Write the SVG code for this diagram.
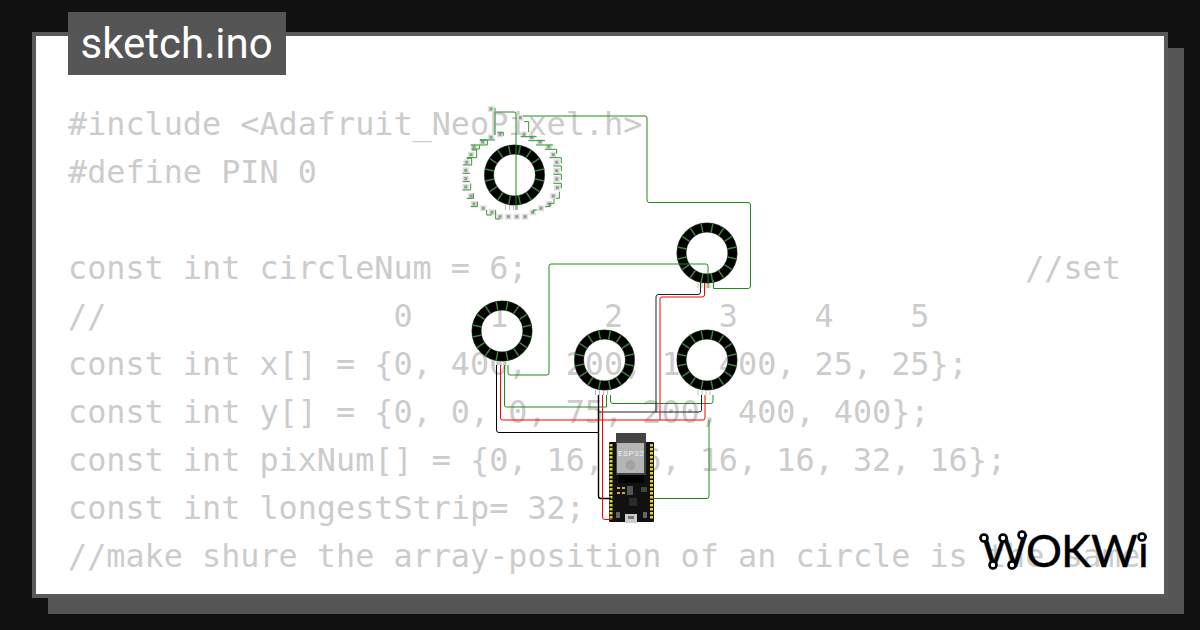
<svg xmlns="http://www.w3.org/2000/svg" width="1200" height="630" viewBox="0 0 1200 630">
<style>
.code{font-family:"DejaVu Sans Mono",monospace;font-size:31.8px;fill:#ccc;white-space:pre}
.w{fill:none;stroke-width:1;stroke-linejoin:round}
.g{stroke:#1c8c1c}.k{stroke:#000}.r{stroke:#f00}
.lw{fill:none;stroke:#2f9a2f;stroke-width:3}
.pin{stroke:#bbb;stroke-width:1}
.logo{font-family:"Lato","Open Sans",sans-serif;font-size:45px;fill:#000;stroke:#000;stroke-width:.4}
.nc{fill:#fff;stroke:#000;stroke-width:2.6}
</style>
<defs>
<g id="ring">
<circle r="25.5" fill="none" stroke="#000" stroke-width="9.600"/>
<circle r="30.200" fill="none" stroke="#2d6a2d" stroke-width=".4"/>
<circle r="20.800" fill="none" stroke="#2d6a2d" stroke-width=".4"/>
<path stroke="#3f7f3f" stroke-width="1.500" d="M4.1 -20.6L5.9 -29.4M-4.1 -20.6L-5.9 -29.4M4.1 20.6L5.9 29.4M-4.1 20.6L-5.9 29.4M20.6 4.1L29.4 5.9M20.6 -4.1L29.4 -5.9M-20.6 4.1L-29.4 5.9M-20.6 -4.1L-29.4 -5.9M11.7 -17.5L16.7 -24.9M-11.7 -17.5L-16.7 -24.9M11.7 17.5L16.7 24.9M-11.7 17.5L-16.7 24.9M17.5 11.7L24.9 16.7M17.5 -11.7L24.9 -16.7M-17.5 11.7L-24.9 16.7M-17.5 -11.7L-24.9 -16.7"/>
<path class="pin" d="M-9 30V35M-5 30V35M-1 30V35M3 30V35"/>
</g>
<g id="led"><rect x="-3.2" y="-3" width="6.4" height="6" fill="#e0e0e0"/><rect x="-1.5" y="-1.5" width="3" height="3" fill="#999"/></g>
</defs>
<rect width="1200" height="630" fill="#111"/>
<rect x="48" y="48" width="1136" height="566" fill="#555"/>
<rect x="34" y="34" width="1132" height="562" fill="#fff" stroke="#5a5a5a" stroke-width="4"/>
<g id="code" opacity=".99">
<text class="code" xml:space="preserve" x="68" y="135">#include &lt;Adafruit_NeoPixel.h&gt;</text>
<text class="code" xml:space="preserve" x="68" y="183">#define PIN 0</text>
<text class="code" xml:space="preserve" x="68" y="279">const int circleNum = 6;                          //set</text>
<text class="code" xml:space="preserve" x="68" y="327">//               0    1     2     3    4    5</text>
<text class="code" xml:space="preserve" x="68" y="375">const int x[] = {0, 400,  200, 1  400, 25, 25};</text>
<text class="code" xml:space="preserve" x="68" y="423">const int y[] = {0, 0, 0, 75, 200, 400, 400};</text>
<text class="code" xml:space="preserve" x="68" y="471">const int pixNum[] = {0, 16, 16, 16, 16, 32, 16};</text>
<text class="code" xml:space="preserve" x="68" y="519">const int longestStrip= 32;</text>
<text class="code" xml:space="preserve" x="68" y="567">//make shure the array-position of an circle is the same</text>
</g>
<g id="title" opacity=".99">
<rect x="68" y="12" width="218" height="63" fill="#555"/>
<text x="80.500" y="58" font-family="Roboto,sans-serif" font-size="42" fill="#fff">sketch.ino</text>
</g>
<g id="ring-big"><use href="#ring" x="514.5" y="175"/></g>
<g id="ring-1"><use href="#ring" x="707" y="253"/></g>
<g id="ring-2"><use href="#ring" x="502" y="331"/></g>
<g id="ring-3"><use href="#ring" x="604.5" y="360"/></g>
<g id="ring-4"><use href="#ring" x="707" y="360"/></g>
<g id="small-leds">
<use href="#led" x="491" y="109"/><use href="#led" x="520.3" y="117.7"/><use href="#led" x="524" y="134.3"/><use href="#led" x="531.7" y="137.3"/><use href="#led" x="540" y="142"/><use href="#led" x="548.7" y="146.7"/><use href="#led" x="553.3" y="154.7"/><use href="#led" x="556.7" y="162.3"/><use href="#led" x="556.7" y="170.7"/><use href="#led" x="556.7" y="179"/><use href="#led" x="557.3" y="187.7"/><use href="#led" x="553.3" y="196"/><use href="#led" x="549" y="204"/><use href="#led" x="541" y="208.3"/><use href="#led" x="532.7" y="212.3"/><use href="#led" x="525" y="216.7"/><use href="#led" x="516.7" y="216.7"/><use href="#led" x="508.3" y="216.7"/><use href="#led" x="500" y="216.7"/><use href="#led" x="492" y="212.3"/><use href="#led" x="483.3" y="208.3"/><use href="#led" x="474" y="204"/><use href="#led" x="471" y="196"/><use href="#led" x="465.7" y="187"/><use href="#led" x="465.7" y="178.7"/><use href="#led" x="465.7" y="170.3"/><use href="#led" x="466.7" y="162.3"/><use href="#led" x="471" y="154.7"/><use href="#led" x="474" y="146.7"/><use href="#led" x="482.7" y="142"/><use href="#led" x="491" y="137.3"/><use href="#led" x="500" y="134.3"/>
</g>
<g id="esp32">
<rect x="609" y="442" width="45" height="80" rx="1" fill="#111"/>
<rect x="616" y="433" width="30" height="42" fill="#444"/>
<rect x="617" y="443" width="27" height="30" fill="#b5b5b5"/>
<text x="618" y="456" font-family="Roboto,sans-serif" font-size="8" letter-spacing=".6" fill="#eee">ESP32</text>
<circle cx="630.5" cy="465" r="5" fill="#a3a3a3"/>
<rect x="619" y="475" width="25" height="8" fill="#000"/>
<path d="M611 444V519M651.500 444V519" stroke="#e8c93a" stroke-width="3" stroke-dasharray="2.4 1.6" fill="none"/>
<rect x="617" y="487" width="3" height="2" fill="#c9a94a"/><rect x="617" y="492" width="3" height="2" fill="#c9a94a"/><rect x="622" y="487" width="3" height="2" fill="#c9a94a"/><rect x="622" y="492" width="3" height="2" fill="#c9a94a"/>
<rect x="627" y="486" width="6" height="9" fill="#555"/>
<rect x="641" y="487" width="6" height="5" fill="#444"/>
<rect x="629" y="498" width="8" height="8" fill="#2a2a2a"/>
<rect x="616" y="512" width="4" height="6" fill="#666"/><rect x="643" y="512" width="4" height="6" fill="#666"/>
<rect x="625" y="514" width="12" height="9" fill="#ccc"/><rect x="628" y="516" width="6" height="3" fill="#777"/>
</g>
<g id="connectors">
<path class="w g" d="M523 116H645Q647 116 647 118V200Q647 202.500 649 202.500H748Q750.500 202.500 750.500 205V286Q750.500 288.500 748 288.500H713.500V280"/>
<path class="w g" d="M708 288V266Q708 264 706 264H551Q549 264 549 266V373Q549 375 547 375H510Q508 375 508 373V365"/>
<path class="w g" d="M495.500 112H514Q516 112 516 114V210"/>
<path class="w g" d="M504.500 365V405Q504.500 407 506.500 407H606.500V395"/>
<path class="w g" d="M610.500 395V401Q610.500 403.500 613 403.500H711Q713 403.500 713 401V395"/>
<path class="w g" d="M709 420V496Q709 498.500 707 498.500H652"/>
<path class="w k" d="M496.500 365V430Q496.500 432.500 499 432.500H598"/>
<path class="w k" d="M598.500 395V496Q598.500 498.500 601 498.500H611" style="stroke-width:1.400"/>
<path class="w k" style="stroke:#222" d="M598 412H699Q701.500 412 701.500 410V395"/>
<path class="w k" style="stroke:#222" d="M656 412V297Q656 294.500 658 294.500H698Q700.500 294.500 700.500 292V283"/>
<path class="w r" d="M500.500 365V418Q500.500 420 503 420H703Q705 420 705 418V395"/>
<path class="w r" d="M602.500 395V517Q602.500 519.500 605 519.500H612"/>
<path class="w r" d="M660 420V299Q660 297 662 297H702Q704.500 297 704.500 295V283"/>
</g>
<g id="small-wires" transform="translate(450 95) scale(.3333)">
<path class="lw" d="M135 38V120M143 112H160V122M222 80H236V112M212 125H260M235 137H285M258 150H310M285 163H320V176M298 188H334V205M310 213H334V228M310 238H334V255M310 265H334V280M328 290V310H318M312 312V325H300M300 325V335H285M262 345H250V352M137 345V372H150M110 345V360H125M82 320V335H62M70 295V310H50M62 265V285H38M38 260H60M38 235H60M38 210H65V190H50M50 188H80V165H65M65 162H88V150M62 150H112V135H90M90 135H135"/>
</g>
<g id="logo">
<text class="logo" x="981 1026 1061 1091 1138" y="567">WOKWi</text>
<circle class="nc" cx="984" cy="538" r="3.500"/><circle class="nc" cx="1003" cy="538" r="3.500"/><circle class="nc" cx="1022" cy="535" r="3.500"/><circle class="nc" cx="993" cy="565" r="3.500"/><circle class="nc" cx="1012" cy="565" r="3.500"/><circle class="nc" cx="1142" cy="537" r="3.500"/>
</g>
</svg>
